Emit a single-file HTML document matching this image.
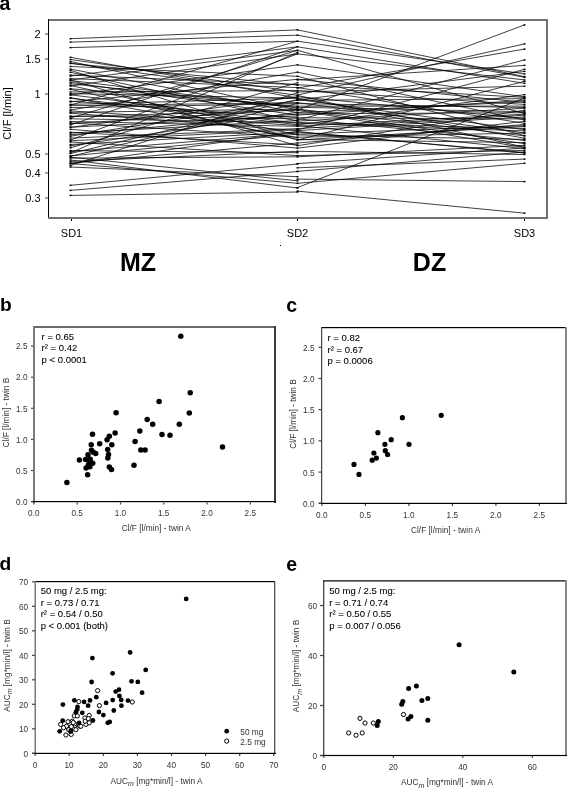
<!DOCTYPE html>
<html><head><meta charset="utf-8"><title>Figure</title>
<style>
html,body{margin:0;padding:0;background:#fff;}
body{width:567px;height:788px;overflow:hidden;}
svg{display:block;}
text{font-family:"Liberation Sans", Arial, Helvetica, sans-serif;}
</style></head><body>
<svg width="567" height="788" viewBox="0 0 567 788">
<rect width="567" height="788" fill="#fff"/>
<text x="-0.6" y="10.4" font-size="19.5" text-anchor="start" font-weight="bold" fill="#000" >a</text>
<rect x="48" y="19" width="500" height="2" fill="#707070"/>
<rect x="48" y="19" width="1" height="200" fill="#000"/>
<rect x="546" y="19" width="2" height="200" fill="#707070"/>
<rect x="48" y="217" width="500" height="2" fill="#707070"/>
<rect x="45" y="33.5" width="3" height="1" fill="#444"/>
<text x="40.5" y="38.19503086286774" font-size="11" text-anchor="end" font-weight="normal" fill="#000" >2</text>
<rect x="45" y="58.5" width="3" height="1" fill="#444"/>
<text x="40.5" y="63.05783944791943" font-size="11" text-anchor="end" font-weight="normal" fill="#000" >1.5</text>
<rect x="45" y="93.5" width="3" height="1" fill="#444"/>
<text x="40.5" y="98.1" font-size="11" text-anchor="end" font-weight="normal" fill="#000" >1</text>
<rect x="45" y="153.5" width="3" height="1" fill="#444"/>
<text x="40.5" y="158.00496913713226" font-size="11" text-anchor="end" font-weight="normal" fill="#000" >0.5</text>
<rect x="45" y="172.5" width="3" height="1" fill="#444"/>
<text x="40.5" y="177.29006172573548" font-size="11" text-anchor="end" font-weight="normal" fill="#000" >0.4</text>
<rect x="45" y="197.5" width="3" height="1" fill="#444"/>
<text x="40.5" y="202.1528703107872" font-size="11" text-anchor="end" font-weight="normal" fill="#000" >0.3</text>
<rect x="71" y="219" width="1" height="2" fill="#000"/>
<text x="71.5" y="236.5" font-size="11" text-anchor="middle" font-weight="normal" fill="#000" >SD1</text>
<rect x="297" y="219" width="1" height="2" fill="#000"/>
<text x="297.5" y="236.5" font-size="11" text-anchor="middle" font-weight="normal" fill="#000" >SD2</text>
<rect x="524" y="219" width="1" height="2" fill="#000"/>
<text x="524.5" y="236.5" font-size="11" text-anchor="middle" font-weight="normal" fill="#000" >SD3</text>
<text x="0" y="0" font-size="11" text-anchor="middle" transform="translate(11,113.5) rotate(-90)">Cl/F [l/min]</text>
<text x="138" y="270.5" font-size="25" text-anchor="middle" font-weight="bold" fill="#000" >MZ</text>
<text x="429.5" y="270.5" font-size="25" text-anchor="middle" font-weight="bold" fill="#000" >DZ</text>
<rect x="280" y="245" width="1" height="1" fill="#000"/>
<line x1="70.5" y1="38.7" x2="297.5" y2="29.9" stroke="#000" stroke-width="0.75"/>
<line x1="70.5" y1="42.1" x2="297.5" y2="35.2" stroke="#000" stroke-width="0.75"/>
<line x1="70.5" y1="47.6" x2="297.5" y2="41.2" stroke="#000" stroke-width="0.75"/>
<line x1="70.5" y1="185.3" x2="297.5" y2="164.0" stroke="#000" stroke-width="0.75"/>
<line x1="70.5" y1="190.4" x2="297.5" y2="171.5" stroke="#000" stroke-width="0.75"/>
<line x1="70.5" y1="195.4" x2="297.5" y2="192.0" stroke="#000" stroke-width="0.75"/>
<line x1="70.5" y1="57.3" x2="297.5" y2="98.0" stroke="#000" stroke-width="0.75"/>
<line x1="70.5" y1="59.5" x2="297.5" y2="92.0" stroke="#000" stroke-width="0.75"/>
<line x1="70.5" y1="61.5" x2="297.5" y2="110.0" stroke="#000" stroke-width="0.75"/>
<line x1="70.5" y1="63.5" x2="297.5" y2="85.0" stroke="#000" stroke-width="0.75"/>
<line x1="70.5" y1="76.0" x2="297.5" y2="46.8" stroke="#000" stroke-width="0.75"/>
<line x1="70.5" y1="80.0" x2="297.5" y2="50.3" stroke="#000" stroke-width="0.75"/>
<line x1="70.5" y1="86.0" x2="297.5" y2="53.9" stroke="#000" stroke-width="0.75"/>
<line x1="70.5" y1="153.0" x2="297.5" y2="52.3" stroke="#000" stroke-width="0.75"/>
<line x1="70.5" y1="95.0" x2="297.5" y2="64.9" stroke="#000" stroke-width="0.75"/>
<line x1="70.5" y1="110.0" x2="297.5" y2="72.2" stroke="#000" stroke-width="0.75"/>
<line x1="70.5" y1="105.0" x2="297.5" y2="41.2" stroke="#000" stroke-width="0.75"/>
<line x1="70.5" y1="125.0" x2="297.5" y2="46.8" stroke="#000" stroke-width="0.75"/>
<line x1="70.5" y1="140.0" x2="297.5" y2="53.9" stroke="#000" stroke-width="0.75"/>
<line x1="70.5" y1="118.0" x2="297.5" y2="50.3" stroke="#000" stroke-width="0.75"/>
<line x1="70.5" y1="167.0" x2="297.5" y2="176.7" stroke="#000" stroke-width="0.75"/>
<line x1="70.5" y1="160.0" x2="297.5" y2="188.0" stroke="#000" stroke-width="0.75"/>
<line x1="70.5" y1="157.2" x2="297.5" y2="180.8" stroke="#000" stroke-width="0.75"/>
<line x1="70.5" y1="163.5" x2="297.5" y2="183.3" stroke="#000" stroke-width="0.75"/>
<line x1="70.5" y1="66.5" x2="297.5" y2="76.3" stroke="#000" stroke-width="0.75"/>
<line x1="70.5" y1="101.9" x2="297.5" y2="79.3" stroke="#000" stroke-width="0.75"/>
<line x1="70.5" y1="147.8" x2="297.5" y2="82.7" stroke="#000" stroke-width="0.75"/>
<line x1="70.5" y1="75.1" x2="297.5" y2="84.7" stroke="#000" stroke-width="0.75"/>
<line x1="70.5" y1="78.6" x2="297.5" y2="87.6" stroke="#000" stroke-width="0.75"/>
<line x1="70.5" y1="92.0" x2="297.5" y2="90.5" stroke="#000" stroke-width="0.75"/>
<line x1="70.5" y1="165.4" x2="297.5" y2="92.7" stroke="#000" stroke-width="0.75"/>
<line x1="70.5" y1="63.1" x2="297.5" y2="95.4" stroke="#000" stroke-width="0.75"/>
<line x1="70.5" y1="127.4" x2="297.5" y2="96.7" stroke="#000" stroke-width="0.75"/>
<line x1="70.5" y1="104.4" x2="297.5" y2="98.1" stroke="#000" stroke-width="0.75"/>
<line x1="70.5" y1="93.6" x2="297.5" y2="98.1" stroke="#000" stroke-width="0.75"/>
<line x1="70.5" y1="153.5" x2="297.5" y2="99.5" stroke="#000" stroke-width="0.75"/>
<line x1="70.5" y1="136.2" x2="297.5" y2="100.3" stroke="#000" stroke-width="0.75"/>
<line x1="70.5" y1="105.7" x2="297.5" y2="102.6" stroke="#000" stroke-width="0.75"/>
<line x1="70.5" y1="156.3" x2="297.5" y2="103.5" stroke="#000" stroke-width="0.75"/>
<line x1="70.5" y1="107.7" x2="297.5" y2="103.6" stroke="#000" stroke-width="0.75"/>
<line x1="70.5" y1="88.8" x2="297.5" y2="106.2" stroke="#000" stroke-width="0.75"/>
<line x1="70.5" y1="83.8" x2="297.5" y2="107.3" stroke="#000" stroke-width="0.75"/>
<line x1="70.5" y1="80.5" x2="297.5" y2="107.9" stroke="#000" stroke-width="0.75"/>
<line x1="70.5" y1="112.4" x2="297.5" y2="109.0" stroke="#000" stroke-width="0.75"/>
<line x1="70.5" y1="123.6" x2="297.5" y2="109.4" stroke="#000" stroke-width="0.75"/>
<line x1="70.5" y1="116.6" x2="297.5" y2="110.3" stroke="#000" stroke-width="0.75"/>
<line x1="70.5" y1="145.8" x2="297.5" y2="112.2" stroke="#000" stroke-width="0.75"/>
<line x1="70.5" y1="69.1" x2="297.5" y2="112.6" stroke="#000" stroke-width="0.75"/>
<line x1="70.5" y1="134.8" x2="297.5" y2="113.9" stroke="#000" stroke-width="0.75"/>
<line x1="70.5" y1="82.3" x2="297.5" y2="115.1" stroke="#000" stroke-width="0.75"/>
<line x1="70.5" y1="127.2" x2="297.5" y2="115.9" stroke="#000" stroke-width="0.75"/>
<line x1="70.5" y1="101.2" x2="297.5" y2="117.7" stroke="#000" stroke-width="0.75"/>
<line x1="70.5" y1="116.1" x2="297.5" y2="118.8" stroke="#000" stroke-width="0.75"/>
<line x1="70.5" y1="133.1" x2="297.5" y2="120.5" stroke="#000" stroke-width="0.75"/>
<line x1="70.5" y1="72.3" x2="297.5" y2="121.1" stroke="#000" stroke-width="0.75"/>
<line x1="70.5" y1="118.8" x2="297.5" y2="122.4" stroke="#000" stroke-width="0.75"/>
<line x1="70.5" y1="94.8" x2="297.5" y2="123.3" stroke="#000" stroke-width="0.75"/>
<line x1="70.5" y1="98.3" x2="297.5" y2="124.7" stroke="#000" stroke-width="0.75"/>
<line x1="70.5" y1="110.9" x2="297.5" y2="125.5" stroke="#000" stroke-width="0.75"/>
<line x1="70.5" y1="121.5" x2="297.5" y2="126.3" stroke="#000" stroke-width="0.75"/>
<line x1="70.5" y1="138.1" x2="297.5" y2="128.6" stroke="#000" stroke-width="0.75"/>
<line x1="70.5" y1="140.8" x2="297.5" y2="129.7" stroke="#000" stroke-width="0.75"/>
<line x1="70.5" y1="113.2" x2="297.5" y2="130.6" stroke="#000" stroke-width="0.75"/>
<line x1="70.5" y1="163.7" x2="297.5" y2="131.5" stroke="#000" stroke-width="0.75"/>
<line x1="70.5" y1="144.5" x2="297.5" y2="132.0" stroke="#000" stroke-width="0.75"/>
<line x1="70.5" y1="151.5" x2="297.5" y2="133.0" stroke="#000" stroke-width="0.75"/>
<line x1="70.5" y1="155.9" x2="297.5" y2="134.2" stroke="#000" stroke-width="0.75"/>
<line x1="70.5" y1="85.5" x2="297.5" y2="134.9" stroke="#000" stroke-width="0.75"/>
<line x1="70.5" y1="122.9" x2="297.5" y2="137.2" stroke="#000" stroke-width="0.75"/>
<line x1="70.5" y1="97.7" x2="297.5" y2="137.7" stroke="#000" stroke-width="0.75"/>
<line x1="70.5" y1="89.4" x2="297.5" y2="139.5" stroke="#000" stroke-width="0.75"/>
<line x1="70.5" y1="70.4" x2="297.5" y2="140.0" stroke="#000" stroke-width="0.75"/>
<line x1="70.5" y1="163.0" x2="297.5" y2="143.0" stroke="#000" stroke-width="0.75"/>
<line x1="70.5" y1="132.2" x2="297.5" y2="144.9" stroke="#000" stroke-width="0.75"/>
<line x1="70.5" y1="80.2" x2="297.5" y2="145.7" stroke="#000" stroke-width="0.75"/>
<line x1="70.5" y1="129.3" x2="297.5" y2="148.1" stroke="#000" stroke-width="0.75"/>
<line x1="70.5" y1="161.4" x2="297.5" y2="151.3" stroke="#000" stroke-width="0.75"/>
<line x1="70.5" y1="150.6" x2="297.5" y2="152.7" stroke="#000" stroke-width="0.75"/>
<line x1="70.5" y1="142.0" x2="297.5" y2="155.6" stroke="#000" stroke-width="0.75"/>
<line x1="70.5" y1="158.1" x2="297.5" y2="156.8" stroke="#000" stroke-width="0.75"/>
<line x1="297.5" y1="29.9" x2="524.5" y2="76.6" stroke="#000" stroke-width="0.75"/>
<line x1="297.5" y1="35.2" x2="524.5" y2="77.3" stroke="#000" stroke-width="0.75"/>
<line x1="297.5" y1="41.2" x2="524.5" y2="73.9" stroke="#000" stroke-width="0.75"/>
<line x1="297.5" y1="46.8" x2="524.5" y2="83.3" stroke="#000" stroke-width="0.75"/>
<line x1="297.5" y1="50.3" x2="524.5" y2="113.5" stroke="#000" stroke-width="0.75"/>
<line x1="297.5" y1="53.9" x2="524.5" y2="79.9" stroke="#000" stroke-width="0.75"/>
<line x1="297.5" y1="64.9" x2="524.5" y2="96.8" stroke="#000" stroke-width="0.75"/>
<line x1="297.5" y1="72.2" x2="524.5" y2="120.0" stroke="#000" stroke-width="0.75"/>
<line x1="297.5" y1="110.0" x2="524.5" y2="24.9" stroke="#000" stroke-width="0.75"/>
<line x1="297.5" y1="95.0" x2="524.5" y2="43.9" stroke="#000" stroke-width="0.75"/>
<line x1="297.5" y1="88.0" x2="524.5" y2="49.1" stroke="#000" stroke-width="0.75"/>
<line x1="297.5" y1="120.0" x2="524.5" y2="59.9" stroke="#000" stroke-width="0.75"/>
<line x1="297.5" y1="80.0" x2="524.5" y2="65.4" stroke="#000" stroke-width="0.75"/>
<line x1="297.5" y1="130.0" x2="524.5" y2="69.3" stroke="#000" stroke-width="0.75"/>
<line x1="297.5" y1="100.0" x2="524.5" y2="71.4" stroke="#000" stroke-width="0.75"/>
<line x1="297.5" y1="140.0" x2="524.5" y2="81.3" stroke="#000" stroke-width="0.75"/>
<line x1="297.5" y1="92.0" x2="524.5" y2="86.2" stroke="#000" stroke-width="0.75"/>
<line x1="297.5" y1="125.0" x2="524.5" y2="94.7" stroke="#000" stroke-width="0.75"/>
<line x1="297.5" y1="191.1" x2="524.5" y2="213.2" stroke="#000" stroke-width="0.75"/>
<line x1="297.5" y1="179.1" x2="524.5" y2="181.6" stroke="#000" stroke-width="0.75"/>
<line x1="297.5" y1="183.3" x2="524.5" y2="163.3" stroke="#000" stroke-width="0.75"/>
<line x1="297.5" y1="187.6" x2="524.5" y2="98.0" stroke="#000" stroke-width="0.75"/>
<line x1="297.5" y1="163.6" x2="524.5" y2="148.0" stroke="#000" stroke-width="0.75"/>
<line x1="297.5" y1="167.8" x2="524.5" y2="159.1" stroke="#000" stroke-width="0.75"/>
<line x1="297.5" y1="171.4" x2="524.5" y2="152.0" stroke="#000" stroke-width="0.75"/>
<line x1="297.5" y1="84.7" x2="524.5" y2="97.4" stroke="#000" stroke-width="0.75"/>
<line x1="297.5" y1="100.3" x2="524.5" y2="98.7" stroke="#000" stroke-width="0.75"/>
<line x1="297.5" y1="115.1" x2="524.5" y2="100.3" stroke="#000" stroke-width="0.75"/>
<line x1="297.5" y1="112.6" x2="524.5" y2="101.9" stroke="#000" stroke-width="0.75"/>
<line x1="297.5" y1="79.3" x2="524.5" y2="102.4" stroke="#000" stroke-width="0.75"/>
<line x1="297.5" y1="90.5" x2="524.5" y2="104.4" stroke="#000" stroke-width="0.75"/>
<line x1="297.5" y1="106.2" x2="524.5" y2="106.1" stroke="#000" stroke-width="0.75"/>
<line x1="297.5" y1="103.6" x2="524.5" y2="107.5" stroke="#000" stroke-width="0.75"/>
<line x1="297.5" y1="121.1" x2="524.5" y2="108.2" stroke="#000" stroke-width="0.75"/>
<line x1="297.5" y1="145.7" x2="524.5" y2="110.2" stroke="#000" stroke-width="0.75"/>
<line x1="297.5" y1="107.3" x2="524.5" y2="111.7" stroke="#000" stroke-width="0.75"/>
<line x1="297.5" y1="113.9" x2="524.5" y2="112.7" stroke="#000" stroke-width="0.75"/>
<line x1="297.5" y1="126.3" x2="524.5" y2="114.2" stroke="#000" stroke-width="0.75"/>
<line x1="297.5" y1="128.6" x2="524.5" y2="115.2" stroke="#000" stroke-width="0.75"/>
<line x1="297.5" y1="130.6" x2="524.5" y2="116.9" stroke="#000" stroke-width="0.75"/>
<line x1="297.5" y1="96.7" x2="524.5" y2="118.4" stroke="#000" stroke-width="0.75"/>
<line x1="297.5" y1="117.7" x2="524.5" y2="119.0" stroke="#000" stroke-width="0.75"/>
<line x1="297.5" y1="148.1" x2="524.5" y2="121.3" stroke="#000" stroke-width="0.75"/>
<line x1="297.5" y1="87.6" x2="524.5" y2="123.3" stroke="#000" stroke-width="0.75"/>
<line x1="297.5" y1="143.0" x2="524.5" y2="124.5" stroke="#000" stroke-width="0.75"/>
<line x1="297.5" y1="134.2" x2="524.5" y2="125.7" stroke="#000" stroke-width="0.75"/>
<line x1="297.5" y1="140.0" x2="524.5" y2="126.5" stroke="#000" stroke-width="0.75"/>
<line x1="297.5" y1="122.4" x2="524.5" y2="128.5" stroke="#000" stroke-width="0.75"/>
<line x1="297.5" y1="99.5" x2="524.5" y2="129.7" stroke="#000" stroke-width="0.75"/>
<line x1="297.5" y1="123.3" x2="524.5" y2="130.9" stroke="#000" stroke-width="0.75"/>
<line x1="297.5" y1="102.6" x2="524.5" y2="132.9" stroke="#000" stroke-width="0.75"/>
<line x1="297.5" y1="137.2" x2="524.5" y2="133.1" stroke="#000" stroke-width="0.75"/>
<line x1="297.5" y1="76.3" x2="524.5" y2="135.6" stroke="#000" stroke-width="0.75"/>
<line x1="297.5" y1="109.0" x2="524.5" y2="135.9" stroke="#000" stroke-width="0.75"/>
<line x1="297.5" y1="98.1" x2="524.5" y2="138.2" stroke="#000" stroke-width="0.75"/>
<line x1="297.5" y1="134.9" x2="524.5" y2="139.4" stroke="#000" stroke-width="0.75"/>
<line x1="297.5" y1="118.8" x2="524.5" y2="140.4" stroke="#000" stroke-width="0.75"/>
<line x1="297.5" y1="139.5" x2="524.5" y2="142.6" stroke="#000" stroke-width="0.75"/>
<line x1="297.5" y1="109.4" x2="524.5" y2="143.7" stroke="#000" stroke-width="0.75"/>
<line x1="297.5" y1="156.8" x2="524.5" y2="145.3" stroke="#000" stroke-width="0.75"/>
<line x1="297.5" y1="95.4" x2="524.5" y2="147.2" stroke="#000" stroke-width="0.75"/>
<line x1="297.5" y1="110.3" x2="524.5" y2="147.5" stroke="#000" stroke-width="0.75"/>
<line x1="297.5" y1="125.5" x2="524.5" y2="148.6" stroke="#000" stroke-width="0.75"/>
<line x1="297.5" y1="155.6" x2="524.5" y2="150.4" stroke="#000" stroke-width="0.75"/>
<line x1="297.5" y1="132.0" x2="524.5" y2="152.5" stroke="#000" stroke-width="0.75"/>
<line x1="297.5" y1="131.5" x2="524.5" y2="153.1" stroke="#000" stroke-width="0.75"/>
<line x1="297.5" y1="151.3" x2="524.5" y2="154.5" stroke="#000" stroke-width="0.75"/>
<rect x="69.5" y="62.4" width="2" height="1.4" fill="#000"/>
<rect x="296.5" y="107.2" width="2" height="1.4" fill="#000"/>
<rect x="523.5" y="116.2" width="2" height="1.4" fill="#000"/>
<rect x="296.5" y="86.89999999999999" width="2" height="1.4" fill="#000"/>
<rect x="296.5" y="170.70000000000002" width="2" height="1.4" fill="#000"/>
<rect x="523.5" y="109.5" width="2" height="1.4" fill="#000"/>
<rect x="69.5" y="131.5" width="2" height="1.4" fill="#000"/>
<rect x="296.5" y="79.3" width="2" height="1.4" fill="#000"/>
<rect x="523.5" y="79.2" width="2" height="1.4" fill="#000"/>
<rect x="69.5" y="56.599999999999994" width="2" height="1.4" fill="#000"/>
<rect x="69.5" y="189.70000000000002" width="2" height="1.4" fill="#000"/>
<rect x="523.5" y="97.3" width="2" height="1.4" fill="#000"/>
<rect x="523.5" y="82.6" width="2" height="1.4" fill="#000"/>
<rect x="296.5" y="97.3" width="2" height="1.4" fill="#000"/>
<rect x="523.5" y="106.8" width="2" height="1.4" fill="#000"/>
<rect x="69.5" y="46.9" width="2" height="1.4" fill="#000"/>
<rect x="69.5" y="162.8" width="2" height="1.4" fill="#000"/>
<rect x="69.5" y="162.3" width="2" height="1.4" fill="#000"/>
<rect x="523.5" y="144.60000000000002" width="2" height="1.4" fill="#000"/>
<rect x="523.5" y="94.0" width="2" height="1.4" fill="#000"/>
<rect x="296.5" y="108.7" width="2" height="1.4" fill="#000"/>
<rect x="69.5" y="101.2" width="2" height="1.4" fill="#000"/>
<rect x="523.5" y="117.7" width="2" height="1.4" fill="#000"/>
<rect x="523.5" y="152.4" width="2" height="1.4" fill="#000"/>
<rect x="69.5" y="164.70000000000002" width="2" height="1.4" fill="#000"/>
<rect x="69.5" y="110.2" width="2" height="1.4" fill="#000"/>
<rect x="296.5" y="191.3" width="2" height="1.4" fill="#000"/>
<rect x="523.5" y="24.2" width="2" height="1.4" fill="#000"/>
<rect x="296.5" y="105.5" width="2" height="1.4" fill="#000"/>
<rect x="69.5" y="107.0" width="2" height="1.4" fill="#000"/>
<rect x="69.5" y="91.3" width="2" height="1.4" fill="#000"/>
<rect x="296.5" y="163.3" width="2" height="1.4" fill="#000"/>
<rect x="296.5" y="124.0" width="2" height="1.4" fill="#000"/>
<rect x="69.5" y="184.60000000000002" width="2" height="1.4" fill="#000"/>
<rect x="296.5" y="78.6" width="2" height="1.4" fill="#000"/>
<rect x="69.5" y="135.5" width="2" height="1.4" fill="#000"/>
<rect x="69.5" y="109.3" width="2" height="1.4" fill="#000"/>
<rect x="296.5" y="127.89999999999999" width="2" height="1.4" fill="#000"/>
<rect x="523.5" y="101.7" width="2" height="1.4" fill="#000"/>
<rect x="69.5" y="137.4" width="2" height="1.4" fill="#000"/>
<rect x="69.5" y="97.6" width="2" height="1.4" fill="#000"/>
<rect x="523.5" y="64.7" width="2" height="1.4" fill="#000"/>
<rect x="69.5" y="111.7" width="2" height="1.4" fill="#000"/>
<rect x="296.5" y="129.3" width="2" height="1.4" fill="#000"/>
<rect x="296.5" y="34.5" width="2" height="1.4" fill="#000"/>
<rect x="296.5" y="138.8" width="2" height="1.4" fill="#000"/>
<rect x="523.5" y="68.6" width="2" height="1.4" fill="#000"/>
<rect x="523.5" y="147.3" width="2" height="1.4" fill="#000"/>
<rect x="69.5" y="75.3" width="2" height="1.4" fill="#000"/>
<rect x="69.5" y="139.3" width="2" height="1.4" fill="#000"/>
<rect x="296.5" y="102.89999999999999" width="2" height="1.4" fill="#000"/>
<rect x="69.5" y="84.8" width="2" height="1.4" fill="#000"/>
<rect x="296.5" y="117.0" width="2" height="1.4" fill="#000"/>
<rect x="69.5" y="41.4" width="2" height="1.4" fill="#000"/>
<rect x="296.5" y="111.89999999999999" width="2" height="1.4" fill="#000"/>
<rect x="296.5" y="29.2" width="2" height="1.4" fill="#000"/>
<rect x="296.5" y="120.39999999999999" width="2" height="1.4" fill="#000"/>
<rect x="523.5" y="119.3" width="2" height="1.4" fill="#000"/>
<rect x="69.5" y="166.3" width="2" height="1.4" fill="#000"/>
<rect x="296.5" y="94.7" width="2" height="1.4" fill="#000"/>
<rect x="69.5" y="126.5" width="2" height="1.4" fill="#000"/>
<rect x="296.5" y="129.9" width="2" height="1.4" fill="#000"/>
<rect x="523.5" y="103.7" width="2" height="1.4" fill="#000"/>
<rect x="523.5" y="147.9" width="2" height="1.4" fill="#000"/>
<rect x="296.5" y="131.3" width="2" height="1.4" fill="#000"/>
<rect x="296.5" y="92.0" width="2" height="1.4" fill="#000"/>
<rect x="296.5" y="176.0" width="2" height="1.4" fill="#000"/>
<rect x="69.5" y="118.1" width="2" height="1.4" fill="#000"/>
<rect x="69.5" y="157.4" width="2" height="1.4" fill="#000"/>
<rect x="69.5" y="38.0" width="2" height="1.4" fill="#000"/>
<rect x="69.5" y="141.3" width="2" height="1.4" fill="#000"/>
<rect x="296.5" y="134.20000000000002" width="2" height="1.4" fill="#000"/>
<rect x="69.5" y="150.8" width="2" height="1.4" fill="#000"/>
<rect x="523.5" y="112.8" width="2" height="1.4" fill="#000"/>
<rect x="69.5" y="159.3" width="2" height="1.4" fill="#000"/>
<rect x="523.5" y="96.7" width="2" height="1.4" fill="#000"/>
<rect x="296.5" y="186.9" width="2" height="1.4" fill="#000"/>
<rect x="69.5" y="88.7" width="2" height="1.4" fill="#000"/>
<rect x="296.5" y="170.8" width="2" height="1.4" fill="#000"/>
<rect x="69.5" y="68.39999999999999" width="2" height="1.4" fill="#000"/>
<rect x="69.5" y="132.4" width="2" height="1.4" fill="#000"/>
<rect x="296.5" y="46.099999999999994" width="2" height="1.4" fill="#000"/>
<rect x="69.5" y="77.89999999999999" width="2" height="1.4" fill="#000"/>
<rect x="296.5" y="124.8" width="2" height="1.4" fill="#000"/>
<rect x="296.5" y="109.6" width="2" height="1.4" fill="#000"/>
<rect x="296.5" y="124.3" width="2" height="1.4" fill="#000"/>
<rect x="523.5" y="158.4" width="2" height="1.4" fill="#000"/>
<rect x="523.5" y="162.60000000000002" width="2" height="1.4" fill="#000"/>
<rect x="296.5" y="142.3" width="2" height="1.4" fill="#000"/>
<rect x="523.5" y="151.3" width="2" height="1.4" fill="#000"/>
<rect x="69.5" y="79.3" width="2" height="1.4" fill="#000"/>
<rect x="296.5" y="97.39999999999999" width="2" height="1.4" fill="#000"/>
<rect x="69.5" y="79.8" width="2" height="1.4" fill="#000"/>
<rect x="296.5" y="111.5" width="2" height="1.4" fill="#000"/>
<rect x="69.5" y="143.8" width="2" height="1.4" fill="#000"/>
<rect x="523.5" y="112.0" width="2" height="1.4" fill="#000"/>
<rect x="523.5" y="151.8" width="2" height="1.4" fill="#000"/>
<rect x="69.5" y="152.3" width="2" height="1.4" fill="#000"/>
<rect x="69.5" y="152.8" width="2" height="1.4" fill="#000"/>
<rect x="69.5" y="112.5" width="2" height="1.4" fill="#000"/>
<rect x="296.5" y="75.6" width="2" height="1.4" fill="#000"/>
<rect x="296.5" y="99.3" width="2" height="1.4" fill="#000"/>
<rect x="296.5" y="108.3" width="2" height="1.4" fill="#000"/>
<rect x="69.5" y="155.20000000000002" width="2" height="1.4" fill="#000"/>
<rect x="296.5" y="156.10000000000002" width="2" height="1.4" fill="#000"/>
<rect x="523.5" y="120.6" width="2" height="1.4" fill="#000"/>
<rect x="296.5" y="96.0" width="2" height="1.4" fill="#000"/>
<rect x="69.5" y="163.0" width="2" height="1.4" fill="#000"/>
<rect x="296.5" y="40.5" width="2" height="1.4" fill="#000"/>
<rect x="296.5" y="154.9" width="2" height="1.4" fill="#000"/>
<rect x="69.5" y="97.0" width="2" height="1.4" fill="#000"/>
<rect x="523.5" y="113.5" width="2" height="1.4" fill="#000"/>
<rect x="523.5" y="153.8" width="2" height="1.4" fill="#000"/>
<rect x="523.5" y="143.0" width="2" height="1.4" fill="#000"/>
<rect x="296.5" y="136.5" width="2" height="1.4" fill="#000"/>
<rect x="296.5" y="137.0" width="2" height="1.4" fill="#000"/>
<rect x="523.5" y="96.1" width="2" height="1.4" fill="#000"/>
<rect x="296.5" y="190.4" width="2" height="1.4" fill="#000"/>
<rect x="523.5" y="101.2" width="2" height="1.4" fill="#000"/>
<rect x="69.5" y="88.1" width="2" height="1.4" fill="#000"/>
<rect x="296.5" y="53.199999999999996" width="2" height="1.4" fill="#000"/>
<rect x="296.5" y="119.8" width="2" height="1.4" fill="#000"/>
<rect x="296.5" y="119.3" width="2" height="1.4" fill="#000"/>
<rect x="69.5" y="120.8" width="2" height="1.4" fill="#000"/>
<rect x="69.5" y="65.8" width="2" height="1.4" fill="#000"/>
<rect x="523.5" y="98.0" width="2" height="1.4" fill="#000"/>
<rect x="296.5" y="113.2" width="2" height="1.4" fill="#000"/>
<rect x="296.5" y="147.4" width="2" height="1.4" fill="#000"/>
<rect x="523.5" y="122.6" width="2" height="1.4" fill="#000"/>
<rect x="523.5" y="146.8" width="2" height="1.4" fill="#000"/>
<rect x="296.5" y="121.7" width="2" height="1.4" fill="#000"/>
<rect x="296.5" y="101.89999999999999" width="2" height="1.4" fill="#000"/>
<rect x="523.5" y="48.4" width="2" height="1.4" fill="#000"/>
<rect x="296.5" y="125.6" width="2" height="1.4" fill="#000"/>
<rect x="523.5" y="125.0" width="2" height="1.4" fill="#000"/>
<rect x="523.5" y="139.70000000000002" width="2" height="1.4" fill="#000"/>
<rect x="296.5" y="94.3" width="2" height="1.4" fill="#000"/>
<rect x="69.5" y="71.6" width="2" height="1.4" fill="#000"/>
<rect x="69.5" y="104.3" width="2" height="1.4" fill="#000"/>
<rect x="69.5" y="134.10000000000002" width="2" height="1.4" fill="#000"/>
<rect x="296.5" y="82.0" width="2" height="1.4" fill="#000"/>
<rect x="296.5" y="150.60000000000002" width="2" height="1.4" fill="#000"/>
<rect x="69.5" y="58.8" width="2" height="1.4" fill="#000"/>
<rect x="296.5" y="130.8" width="2" height="1.4" fill="#000"/>
<rect x="296.5" y="115.2" width="2" height="1.4" fill="#000"/>
<rect x="523.5" y="129.0" width="2" height="1.4" fill="#000"/>
<rect x="69.5" y="100.5" width="2" height="1.4" fill="#000"/>
<rect x="523.5" y="137.5" width="2" height="1.4" fill="#000"/>
<rect x="69.5" y="69.7" width="2" height="1.4" fill="#000"/>
<rect x="296.5" y="87.3" width="2" height="1.4" fill="#000"/>
<rect x="523.5" y="75.89999999999999" width="2" height="1.4" fill="#000"/>
<rect x="69.5" y="122.89999999999999" width="2" height="1.4" fill="#000"/>
<rect x="69.5" y="83.1" width="2" height="1.4" fill="#000"/>
<rect x="523.5" y="99.6" width="2" height="1.4" fill="#000"/>
<rect x="523.5" y="123.8" width="2" height="1.4" fill="#000"/>
<rect x="296.5" y="84.0" width="2" height="1.4" fill="#000"/>
<rect x="69.5" y="60.8" width="2" height="1.4" fill="#000"/>
<rect x="296.5" y="187.3" width="2" height="1.4" fill="#000"/>
<rect x="69.5" y="145.10000000000002" width="2" height="1.4" fill="#000"/>
<rect x="69.5" y="124.3" width="2" height="1.4" fill="#000"/>
<rect x="523.5" y="111.0" width="2" height="1.4" fill="#000"/>
<rect x="523.5" y="70.7" width="2" height="1.4" fill="#000"/>
<rect x="523.5" y="105.39999999999999" width="2" height="1.4" fill="#000"/>
<rect x="523.5" y="135.20000000000002" width="2" height="1.4" fill="#000"/>
<rect x="69.5" y="126.7" width="2" height="1.4" fill="#000"/>
<rect x="296.5" y="89.8" width="2" height="1.4" fill="#000"/>
<rect x="296.5" y="114.39999999999999" width="2" height="1.4" fill="#000"/>
<rect x="296.5" y="178.4" width="2" height="1.4" fill="#000"/>
<rect x="296.5" y="98.8" width="2" height="1.4" fill="#000"/>
<rect x="296.5" y="182.60000000000002" width="2" height="1.4" fill="#000"/>
<rect x="69.5" y="115.89999999999999" width="2" height="1.4" fill="#000"/>
<rect x="69.5" y="115.39999999999999" width="2" height="1.4" fill="#000"/>
<rect x="296.5" y="133.5" width="2" height="1.4" fill="#000"/>
<rect x="523.5" y="132.4" width="2" height="1.4" fill="#000"/>
<rect x="523.5" y="141.9" width="2" height="1.4" fill="#000"/>
<rect x="69.5" y="128.60000000000002" width="2" height="1.4" fill="#000"/>
<rect x="296.5" y="152.0" width="2" height="1.4" fill="#000"/>
<rect x="69.5" y="94.1" width="2" height="1.4" fill="#000"/>
<rect x="523.5" y="59.199999999999996" width="2" height="1.4" fill="#000"/>
<rect x="523.5" y="85.5" width="2" height="1.4" fill="#000"/>
<rect x="523.5" y="125.8" width="2" height="1.4" fill="#000"/>
<rect x="69.5" y="117.3" width="2" height="1.4" fill="#000"/>
<rect x="69.5" y="62.8" width="2" height="1.4" fill="#000"/>
<rect x="69.5" y="147.10000000000002" width="2" height="1.4" fill="#000"/>
<rect x="69.5" y="155.60000000000002" width="2" height="1.4" fill="#000"/>
<rect x="296.5" y="49.599999999999994" width="2" height="1.4" fill="#000"/>
<rect x="296.5" y="64.2" width="2" height="1.4" fill="#000"/>
<rect x="523.5" y="73.2" width="2" height="1.4" fill="#000"/>
<rect x="296.5" y="162.9" width="2" height="1.4" fill="#000"/>
<rect x="69.5" y="105.0" width="2" height="1.4" fill="#000"/>
<rect x="296.5" y="122.6" width="2" height="1.4" fill="#000"/>
<rect x="296.5" y="167.10000000000002" width="2" height="1.4" fill="#000"/>
<rect x="523.5" y="76.6" width="2" height="1.4" fill="#000"/>
<rect x="296.5" y="91.3" width="2" height="1.4" fill="#000"/>
<rect x="523.5" y="180.9" width="2" height="1.4" fill="#000"/>
<rect x="523.5" y="43.199999999999996" width="2" height="1.4" fill="#000"/>
<rect x="523.5" y="134.9" width="2" height="1.4" fill="#000"/>
<rect x="296.5" y="109.3" width="2" height="1.4" fill="#000"/>
<rect x="296.5" y="145.0" width="2" height="1.4" fill="#000"/>
<rect x="523.5" y="118.3" width="2" height="1.4" fill="#000"/>
<rect x="523.5" y="127.8" width="2" height="1.4" fill="#000"/>
<rect x="69.5" y="140.10000000000002" width="2" height="1.4" fill="#000"/>
<rect x="69.5" y="79.5" width="2" height="1.4" fill="#000"/>
<rect x="69.5" y="74.39999999999999" width="2" height="1.4" fill="#000"/>
<rect x="69.5" y="103.7" width="2" height="1.4" fill="#000"/>
<rect x="296.5" y="106.6" width="2" height="1.4" fill="#000"/>
<rect x="296.5" y="51.599999999999994" width="2" height="1.4" fill="#000"/>
<rect x="523.5" y="130.20000000000002" width="2" height="1.4" fill="#000"/>
<rect x="523.5" y="114.5" width="2" height="1.4" fill="#000"/>
<rect x="69.5" y="92.89999999999999" width="2" height="1.4" fill="#000"/>
<rect x="69.5" y="122.2" width="2" height="1.4" fill="#000"/>
<rect x="296.5" y="139.3" width="2" height="1.4" fill="#000"/>
<rect x="296.5" y="84.3" width="2" height="1.4" fill="#000"/>
<rect x="523.5" y="138.70000000000002" width="2" height="1.4" fill="#000"/>
<rect x="69.5" y="194.70000000000002" width="2" height="1.4" fill="#000"/>
<rect x="69.5" y="85.3" width="2" height="1.4" fill="#000"/>
<rect x="296.5" y="129.0" width="2" height="1.4" fill="#000"/>
<rect x="296.5" y="102.8" width="2" height="1.4" fill="#000"/>
<rect x="69.5" y="94.3" width="2" height="1.4" fill="#000"/>
<rect x="523.5" y="146.5" width="2" height="1.4" fill="#000"/>
<rect x="296.5" y="71.5" width="2" height="1.4" fill="#000"/>
<rect x="69.5" y="156.5" width="2" height="1.4" fill="#000"/>
<rect x="296.5" y="99.6" width="2" height="1.4" fill="#000"/>
<rect x="69.5" y="160.70000000000002" width="2" height="1.4" fill="#000"/>
<rect x="523.5" y="107.5" width="2" height="1.4" fill="#000"/>
<rect x="296.5" y="132.3" width="2" height="1.4" fill="#000"/>
<rect x="296.5" y="118.1" width="2" height="1.4" fill="#000"/>
<rect x="69.5" y="149.9" width="2" height="1.4" fill="#000"/>
<rect x="523.5" y="132.20000000000002" width="2" height="1.4" fill="#000"/>
<rect x="523.5" y="80.6" width="2" height="1.4" fill="#000"/>
<rect x="523.5" y="149.70000000000002" width="2" height="1.4" fill="#000"/>
<rect x="296.5" y="180.10000000000002" width="2" height="1.4" fill="#000"/>
<rect x="69.5" y="81.6" width="2" height="1.4" fill="#000"/>
<rect x="296.5" y="144.20000000000002" width="2" height="1.4" fill="#000"/>
<rect x="523.5" y="212.5" width="2" height="1.4" fill="#000"/>
<text x="0.0" y="310.8" font-size="19.2" text-anchor="start" font-weight="bold" fill="#000" >b</text>
<rect x="33" y="326" width="243" height="2" fill="#6a6a6a"/>
<rect x="33" y="326" width="2" height="177" fill="#7a7a7a"/>
<rect x="274" y="326" width="2" height="177" fill="#3a3a3a"/>
<rect x="31" y="501" width="245" height="1.2" fill="#000"/>
<rect x="31" y="501.0" width="2" height="1.2" fill="#444"/>
<text x="27.5" y="504.8" font-size="8.2" text-anchor="end" font-weight="normal" fill="#333" >0.0</text>
<rect x="33.3" y="502.5" width="1.2" height="2" fill="#444"/>
<text x="33.8" y="515.5" font-size="8.2" text-anchor="middle" font-weight="normal" fill="#333" >0.0</text>
<rect x="31" y="469.9" width="2" height="1.2" fill="#444"/>
<text x="27.5" y="473.7" font-size="8.2" text-anchor="end" font-weight="normal" fill="#333" >0.5</text>
<rect x="76.6" y="502.5" width="1.2" height="2" fill="#444"/>
<text x="77.1" y="515.5" font-size="8.2" text-anchor="middle" font-weight="normal" fill="#333" >0.5</text>
<rect x="31" y="438.8" width="2" height="1.2" fill="#444"/>
<text x="27.5" y="442.6" font-size="8.2" text-anchor="end" font-weight="normal" fill="#333" >1.0</text>
<rect x="119.89999999999999" y="502.5" width="1.2" height="2" fill="#444"/>
<text x="120.39999999999999" y="515.5" font-size="8.2" text-anchor="middle" font-weight="normal" fill="#333" >1.0</text>
<rect x="31" y="407.7" width="2" height="1.2" fill="#444"/>
<text x="27.5" y="411.5" font-size="8.2" text-anchor="end" font-weight="normal" fill="#333" >1.5</text>
<rect x="163.2" y="502.5" width="1.2" height="2" fill="#444"/>
<text x="163.7" y="515.5" font-size="8.2" text-anchor="middle" font-weight="normal" fill="#333" >1.5</text>
<rect x="31" y="376.6" width="2" height="1.2" fill="#444"/>
<text x="27.5" y="380.40000000000003" font-size="8.2" text-anchor="end" font-weight="normal" fill="#333" >2.0</text>
<rect x="206.5" y="502.5" width="1.2" height="2" fill="#444"/>
<text x="207.0" y="515.5" font-size="8.2" text-anchor="middle" font-weight="normal" fill="#333" >2.0</text>
<rect x="31" y="345.5" width="2" height="1.2" fill="#444"/>
<text x="27.5" y="349.3" font-size="8.2" text-anchor="end" font-weight="normal" fill="#333" >2.5</text>
<rect x="249.8" y="502.5" width="1.2" height="2" fill="#444"/>
<text x="250.3" y="515.5" font-size="8.2" text-anchor="middle" font-weight="normal" fill="#333" >2.5</text>
<text x="0" y="0" font-size="8.3" text-anchor="middle" fill="#333" transform="translate(8.6,412.6) rotate(-90)">Cl/F [l/min] - twin B</text>
<text x="156.3" y="531.3" font-size="8.3" text-anchor="middle" font-weight="normal" fill="#333" >Cl/F [l/min] - twin A</text>
<text x="41.599999999999994" y="339.6" font-size="9.5" text-anchor="start" font-weight="normal" fill="#000" stroke="#000" stroke-width="0.08">r = 0.65</text>
<text x="41.599999999999994" y="351.1" font-size="9.5" text-anchor="start" font-weight="normal" fill="#000" stroke="#000" stroke-width="0.08">r² = 0.42</text>
<text x="41.599999999999994" y="362.6" font-size="9.5" text-anchor="start" font-weight="normal" fill="#000" stroke="#000" stroke-width="0.08">p &lt; 0.0001</text>
<circle cx="66.9" cy="482.6" r="2.75" fill="#000"/>
<circle cx="92.5" cy="434.2" r="2.75" fill="#000"/>
<circle cx="115.1" cy="433.1" r="2.75" fill="#000"/>
<circle cx="109.3" cy="436.3" r="2.75" fill="#000"/>
<circle cx="107.1" cy="439.8" r="2.75" fill="#000"/>
<circle cx="99.7" cy="443.7" r="2.75" fill="#000"/>
<circle cx="111.8" cy="444.7" r="2.75" fill="#000"/>
<circle cx="91.2" cy="444.7" r="2.75" fill="#000"/>
<circle cx="91.5" cy="450.2" r="2.75" fill="#000"/>
<circle cx="107.7" cy="449.6" r="2.75" fill="#000"/>
<circle cx="95.7" cy="453.6" r="2.75" fill="#000"/>
<circle cx="93.3" cy="452.3" r="2.75" fill="#000"/>
<circle cx="88" cy="454.8" r="2.75" fill="#000"/>
<circle cx="108.5" cy="454.6" r="2.75" fill="#000"/>
<circle cx="107.8" cy="458" r="2.75" fill="#000"/>
<circle cx="79.4" cy="460.1" r="2.75" fill="#000"/>
<circle cx="85.6" cy="459.5" r="2.75" fill="#000"/>
<circle cx="90.2" cy="459.3" r="2.75" fill="#000"/>
<circle cx="89.6" cy="462.6" r="2.75" fill="#000"/>
<circle cx="92.7" cy="463.2" r="2.75" fill="#000"/>
<circle cx="88.3" cy="465.1" r="2.75" fill="#000"/>
<circle cx="89.9" cy="466.7" r="2.75" fill="#000"/>
<circle cx="86.1" cy="468.1" r="2.75" fill="#000"/>
<circle cx="109.3" cy="466.9" r="2.75" fill="#000"/>
<circle cx="111.5" cy="469.4" r="2.75" fill="#000"/>
<circle cx="87.6" cy="474.7" r="2.75" fill="#000"/>
<circle cx="116.1" cy="412.7" r="2.75" fill="#000"/>
<circle cx="159.1" cy="401.6" r="2.75" fill="#000"/>
<circle cx="147.2" cy="419.5" r="2.75" fill="#000"/>
<circle cx="152.7" cy="424.3" r="2.75" fill="#000"/>
<circle cx="189.3" cy="413.0" r="2.75" fill="#000"/>
<circle cx="179.3" cy="424.3" r="2.75" fill="#000"/>
<circle cx="139.8" cy="431.1" r="2.75" fill="#000"/>
<circle cx="162" cy="434.5" r="2.75" fill="#000"/>
<circle cx="170" cy="435.3" r="2.75" fill="#000"/>
<circle cx="135.1" cy="441.5" r="2.75" fill="#000"/>
<circle cx="140.8" cy="450" r="2.75" fill="#000"/>
<circle cx="145.1" cy="450" r="2.75" fill="#000"/>
<circle cx="134" cy="465.2" r="2.75" fill="#000"/>
<circle cx="222.5" cy="447" r="2.75" fill="#000"/>
<circle cx="180.8" cy="336.3" r="2.75" fill="#000"/>
<circle cx="190.2" cy="392.8" r="2.75" fill="#000"/>
<text x="286.3" y="311.5" font-size="19.5" text-anchor="start" font-weight="bold" fill="#000" >c</text>
<rect x="321" y="327" width="246" height="1.2" fill="#000"/>
<rect x="321" y="327" width="1.2" height="177" fill="#444"/>
<rect x="565" y="327" width="2" height="177" fill="#888"/>
<rect x="319" y="502.8" width="248" height="1.2" fill="#000"/>
<rect x="318.5" y="502.7" width="3" height="1.2" fill="#444"/>
<text x="314.5" y="506.8" font-size="8.2" text-anchor="end" font-weight="normal" fill="#333" >0.0</text>
<rect x="321.3" y="504" width="1.2" height="2" fill="#444"/>
<text x="321.8" y="518.4" font-size="8.2" text-anchor="middle" font-weight="normal" fill="#333" >0.0</text>
<rect x="318.5" y="471.5" width="3" height="1.2" fill="#444"/>
<text x="314.5" y="475.6" font-size="8.2" text-anchor="end" font-weight="normal" fill="#333" >0.5</text>
<rect x="364.8" y="504" width="1.2" height="2" fill="#444"/>
<text x="365.3" y="518.4" font-size="8.2" text-anchor="middle" font-weight="normal" fill="#333" >0.5</text>
<rect x="318.5" y="440.3" width="3" height="1.2" fill="#444"/>
<text x="314.5" y="444.40000000000003" font-size="8.2" text-anchor="end" font-weight="normal" fill="#333" >1.0</text>
<rect x="408.3" y="504" width="1.2" height="2" fill="#444"/>
<text x="408.8" y="518.4" font-size="8.2" text-anchor="middle" font-weight="normal" fill="#333" >1.0</text>
<rect x="318.5" y="409.1" width="3" height="1.2" fill="#444"/>
<text x="314.5" y="413.20000000000005" font-size="8.2" text-anchor="end" font-weight="normal" fill="#333" >1.5</text>
<rect x="451.8" y="504" width="1.2" height="2" fill="#444"/>
<text x="452.3" y="518.4" font-size="8.2" text-anchor="middle" font-weight="normal" fill="#333" >1.5</text>
<rect x="318.5" y="377.9" width="3" height="1.2" fill="#444"/>
<text x="314.5" y="382.0" font-size="8.2" text-anchor="end" font-weight="normal" fill="#333" >2.0</text>
<rect x="495.3" y="504" width="1.2" height="2" fill="#444"/>
<text x="495.8" y="518.4" font-size="8.2" text-anchor="middle" font-weight="normal" fill="#333" >2.0</text>
<rect x="318.5" y="346.7" width="3" height="1.2" fill="#444"/>
<text x="314.5" y="350.8" font-size="8.2" text-anchor="end" font-weight="normal" fill="#333" >2.5</text>
<rect x="538.8" y="504" width="1.2" height="2" fill="#444"/>
<text x="539.3" y="518.4" font-size="8.2" text-anchor="middle" font-weight="normal" fill="#333" >2.5</text>
<text x="0" y="0" font-size="8.3" text-anchor="middle" fill="#333" transform="translate(296.2,414) rotate(-90)">Cl/F [l/min] - twin B</text>
<text x="445.6" y="532.5" font-size="8.3" text-anchor="middle" font-weight="normal" fill="#333" >Cl/F [l/min] - twin A</text>
<text x="327.5" y="341.2" font-size="9.5" text-anchor="start" font-weight="normal" fill="#000" stroke="#000" stroke-width="0.08">r = 0.82</text>
<text x="327.5" y="352.7" font-size="9.5" text-anchor="start" font-weight="normal" fill="#000" stroke="#000" stroke-width="0.08">r² = 0.67</text>
<text x="327.5" y="364.2" font-size="9.5" text-anchor="start" font-weight="normal" fill="#000" stroke="#000" stroke-width="0.08">p = 0.0006</text>
<circle cx="354" cy="464.4" r="2.6" fill="#000"/>
<circle cx="359" cy="474.4" r="2.6" fill="#000"/>
<circle cx="377.9" cy="432.7" r="2.6" fill="#000"/>
<circle cx="391.2" cy="439.7" r="2.6" fill="#000"/>
<circle cx="384.9" cy="444.3" r="2.6" fill="#000"/>
<circle cx="409" cy="444.3" r="2.6" fill="#000"/>
<circle cx="373.9" cy="453" r="2.6" fill="#000"/>
<circle cx="385.3" cy="450.7" r="2.6" fill="#000"/>
<circle cx="387.6" cy="454.5" r="2.6" fill="#000"/>
<circle cx="376.4" cy="458.1" r="2.6" fill="#000"/>
<circle cx="372.2" cy="460.2" r="2.6" fill="#000"/>
<circle cx="402.4" cy="417.7" r="2.6" fill="#000"/>
<circle cx="441.2" cy="415.3" r="2.6" fill="#000"/>
<text x="-0.5" y="569.9" font-size="19.2" text-anchor="start" font-weight="bold" fill="#000" >d</text>
<rect x="35" y="581" width="240" height="1.2" fill="#000"/>
<rect x="34.5" y="581" width="1.5" height="173" fill="#7a7a7a"/>
<rect x="274.1" y="581" width="1.2" height="173" fill="#444"/>
<rect x="32" y="752.8" width="244" height="1.2" fill="#000"/>
<rect x="32" y="752.7" width="3" height="1.2" fill="#444"/>
<text x="28" y="756.5" font-size="8.2" text-anchor="end" font-weight="normal" fill="#333" >0</text>
<rect x="34.5" y="754" width="1.2" height="2" fill="#444"/>
<text x="35.0" y="767.7" font-size="8.2" text-anchor="middle" font-weight="normal" fill="#333" >0</text>
<rect x="32" y="728.2" width="3" height="1.2" fill="#444"/>
<text x="28" y="732.0" font-size="8.2" text-anchor="end" font-weight="normal" fill="#333" >10</text>
<rect x="68.6" y="754" width="1.2" height="2" fill="#444"/>
<text x="69.1" y="767.7" font-size="8.2" text-anchor="middle" font-weight="normal" fill="#333" >10</text>
<rect x="32" y="703.7" width="3" height="1.2" fill="#444"/>
<text x="28" y="707.5" font-size="8.2" text-anchor="end" font-weight="normal" fill="#333" >20</text>
<rect x="102.7" y="754" width="1.2" height="2" fill="#444"/>
<text x="103.2" y="767.7" font-size="8.2" text-anchor="middle" font-weight="normal" fill="#333" >20</text>
<rect x="32" y="679.2" width="3" height="1.2" fill="#444"/>
<text x="28" y="683.0" font-size="8.2" text-anchor="end" font-weight="normal" fill="#333" >30</text>
<rect x="136.8" y="754" width="1.2" height="2" fill="#444"/>
<text x="137.3" y="767.7" font-size="8.2" text-anchor="middle" font-weight="normal" fill="#333" >30</text>
<rect x="32" y="654.7" width="3" height="1.2" fill="#444"/>
<text x="28" y="658.5" font-size="8.2" text-anchor="end" font-weight="normal" fill="#333" >40</text>
<rect x="170.9" y="754" width="1.2" height="2" fill="#444"/>
<text x="171.4" y="767.7" font-size="8.2" text-anchor="middle" font-weight="normal" fill="#333" >40</text>
<rect x="32" y="630.2" width="3" height="1.2" fill="#444"/>
<text x="28" y="634.0" font-size="8.2" text-anchor="end" font-weight="normal" fill="#333" >50</text>
<rect x="205.0" y="754" width="1.2" height="2" fill="#444"/>
<text x="205.5" y="767.7" font-size="8.2" text-anchor="middle" font-weight="normal" fill="#333" >50</text>
<rect x="32" y="605.7" width="3" height="1.2" fill="#444"/>
<text x="28" y="609.5" font-size="8.2" text-anchor="end" font-weight="normal" fill="#333" >60</text>
<rect x="239.10000000000002" y="754" width="1.2" height="2" fill="#444"/>
<text x="239.60000000000002" y="767.7" font-size="8.2" text-anchor="middle" font-weight="normal" fill="#333" >60</text>
<rect x="32" y="581.2" width="3" height="1.2" fill="#444"/>
<text x="28" y="585.0" font-size="8.2" text-anchor="end" font-weight="normal" fill="#333" >70</text>
<rect x="273.20000000000005" y="754" width="1.2" height="2" fill="#444"/>
<text x="273.70000000000005" y="767.7" font-size="8.2" text-anchor="middle" font-weight="normal" fill="#333" >70</text>
<text x="0" y="0" font-size="8.3" text-anchor="middle" fill="#333" transform="translate(9.6,665.6) rotate(-90)">AUC<tspan font-size="7" dy="2.5" font-style="italic">m</tspan><tspan dy="-2.5"> [mg*min/l] - twin B</tspan></text>
<text x="156.5" y="783.6" font-size="8.3" text-anchor="middle" fill="#333">AUC<tspan font-size="7" dy="2.5" font-style="italic">m</tspan><tspan dy="-2.5"> [mg*min/l] - twin A</tspan></text>
<text x="40.699999999999996" y="594.4" font-size="9.5" text-anchor="start" font-weight="normal" fill="#000" stroke="#000" stroke-width="0.08">50 mg / 2.5 mg:</text>
<text x="40.699999999999996" y="605.9" font-size="9.5" text-anchor="start" font-weight="normal" fill="#000" stroke="#000" stroke-width="0.08">r = 0.73 / 0.71</text>
<text x="40.699999999999996" y="617.4" font-size="9.5" text-anchor="start" font-weight="normal" fill="#000" stroke="#000" stroke-width="0.08">r² = 0.54 / 0.50</text>
<text x="40.699999999999996" y="628.9" font-size="9.5" text-anchor="start" font-weight="normal" fill="#000" stroke="#000" stroke-width="0.08">p &lt; 0.001 (both)</text>
<circle cx="97.6" cy="690.6" r="2.10" fill="#fff" stroke="#000" stroke-width="1.0"/>
<circle cx="78.8" cy="701.6" r="2.10" fill="#fff" stroke="#000" stroke-width="1.0"/>
<circle cx="99.4" cy="705.6" r="2.10" fill="#fff" stroke="#000" stroke-width="1.0"/>
<circle cx="74.3" cy="715.9" r="2.10" fill="#fff" stroke="#000" stroke-width="1.0"/>
<circle cx="77.3" cy="715.9" r="2.10" fill="#fff" stroke="#000" stroke-width="1.0"/>
<circle cx="84.9" cy="718" r="2.10" fill="#fff" stroke="#000" stroke-width="1.0"/>
<circle cx="89.2" cy="715.4" r="2.10" fill="#fff" stroke="#000" stroke-width="1.0"/>
<circle cx="60.6" cy="724.4" r="2.10" fill="#fff" stroke="#000" stroke-width="1.0"/>
<circle cx="68" cy="721.7" r="2.10" fill="#fff" stroke="#000" stroke-width="1.0"/>
<circle cx="72.2" cy="721.2" r="2.10" fill="#fff" stroke="#000" stroke-width="1.0"/>
<circle cx="74.9" cy="725.4" r="2.10" fill="#fff" stroke="#000" stroke-width="1.0"/>
<circle cx="79.6" cy="726" r="2.10" fill="#fff" stroke="#000" stroke-width="1.0"/>
<circle cx="86" cy="724.4" r="2.10" fill="#fff" stroke="#000" stroke-width="1.0"/>
<circle cx="89.2" cy="722.8" r="2.10" fill="#fff" stroke="#000" stroke-width="1.0"/>
<circle cx="68" cy="728.1" r="2.10" fill="#fff" stroke="#000" stroke-width="1.0"/>
<circle cx="75.9" cy="729.7" r="2.10" fill="#fff" stroke="#000" stroke-width="1.0"/>
<circle cx="65.9" cy="735" r="2.10" fill="#fff" stroke="#000" stroke-width="1.0"/>
<circle cx="71.2" cy="734.4" r="2.10" fill="#fff" stroke="#000" stroke-width="1.0"/>
<circle cx="132.3" cy="702" r="2.10" fill="#fff" stroke="#000" stroke-width="1.0"/>
<circle cx="66.5" cy="726.2" r="2.10" fill="#fff" stroke="#000" stroke-width="1.0"/>
<circle cx="68.8" cy="729.6" r="2.10" fill="#fff" stroke="#000" stroke-width="1.0"/>
<circle cx="71.3" cy="726.6" r="2.10" fill="#fff" stroke="#000" stroke-width="1.0"/>
<circle cx="74.6" cy="723.8" r="2.10" fill="#fff" stroke="#000" stroke-width="1.0"/>
<circle cx="80.9" cy="726.3" r="2.10" fill="#fff" stroke="#000" stroke-width="1.0"/>
<circle cx="85.2" cy="721.2" r="2.10" fill="#fff" stroke="#000" stroke-width="1.0"/>
<circle cx="88.3" cy="718.6" r="2.10" fill="#fff" stroke="#000" stroke-width="1.0"/>
<circle cx="73.2" cy="722.6" r="2.10" fill="#fff" stroke="#000" stroke-width="1.0"/>
<circle cx="63.5" cy="727.8" r="2.10" fill="#fff" stroke="#000" stroke-width="1.0"/>
<circle cx="62.9" cy="704.6" r="2.4" fill="#000"/>
<circle cx="74.3" cy="700.3" r="2.4" fill="#000"/>
<circle cx="84.1" cy="701.9" r="2.4" fill="#000"/>
<circle cx="90" cy="700.4" r="2.4" fill="#000"/>
<circle cx="88.1" cy="705.7" r="2.4" fill="#000"/>
<circle cx="96.3" cy="697.2" r="2.4" fill="#000"/>
<circle cx="106.1" cy="702.9" r="2.4" fill="#000"/>
<circle cx="77.5" cy="706.9" r="2.4" fill="#000"/>
<circle cx="75.9" cy="712.2" r="2.4" fill="#000"/>
<circle cx="82.3" cy="712.8" r="2.4" fill="#000"/>
<circle cx="98.9" cy="712" r="2.4" fill="#000"/>
<circle cx="103.4" cy="715.1" r="2.4" fill="#000"/>
<circle cx="62.7" cy="720.7" r="2.4" fill="#000"/>
<circle cx="92.9" cy="720.5" r="2.4" fill="#000"/>
<circle cx="107.7" cy="722.8" r="2.4" fill="#000"/>
<circle cx="79.1" cy="722.8" r="2.4" fill="#000"/>
<circle cx="59.7" cy="731.3" r="2.4" fill="#000"/>
<circle cx="71.2" cy="730.7" r="2.4" fill="#000"/>
<circle cx="92.4" cy="658.1" r="2.4" fill="#000"/>
<circle cx="130.1" cy="652.4" r="2.4" fill="#000"/>
<circle cx="145.7" cy="669.9" r="2.4" fill="#000"/>
<circle cx="112.6" cy="673.3" r="2.4" fill="#000"/>
<circle cx="91.6" cy="682" r="2.4" fill="#000"/>
<circle cx="131.5" cy="681.3" r="2.4" fill="#000"/>
<circle cx="137.8" cy="681.9" r="2.4" fill="#000"/>
<circle cx="142.1" cy="692.7" r="2.4" fill="#000"/>
<circle cx="119" cy="689.7" r="2.4" fill="#000"/>
<circle cx="115.7" cy="691.6" r="2.4" fill="#000"/>
<circle cx="119.4" cy="695.9" r="2.4" fill="#000"/>
<circle cx="121.2" cy="699.9" r="2.4" fill="#000"/>
<circle cx="112.7" cy="700.1" r="2.4" fill="#000"/>
<circle cx="128" cy="700.6" r="2.4" fill="#000"/>
<circle cx="121.4" cy="705.7" r="2.4" fill="#000"/>
<circle cx="113.8" cy="710.5" r="2.4" fill="#000"/>
<circle cx="109.7" cy="721.9" r="2.4" fill="#000"/>
<circle cx="186.2" cy="598.9" r="2.4" fill="#000"/>
<circle cx="77.2" cy="709.4" r="2.4" fill="#000"/>
<circle cx="70.5" cy="731.5" r="2.4" fill="#000"/>
<circle cx="226.7" cy="731.2" r="2.4" fill="#000"/>
<circle cx="226.7" cy="741.1" r="2.10" fill="#fff" stroke="#000" stroke-width="1.0"/>
<text x="240.3" y="734.5" font-size="8.3" text-anchor="start" font-weight="normal" fill="#333" >50 mg</text>
<text x="240.3" y="744.5" font-size="8.3" text-anchor="start" font-weight="normal" fill="#333" >2.5 mg</text>
<text x="286.3" y="570.5" font-size="19.5" text-anchor="start" font-weight="bold" fill="#000" >e</text>
<rect x="323" y="580.3" width="244" height="1.2" fill="#000"/>
<rect x="323.1" y="580" width="1.2" height="176" fill="#333"/>
<rect x="565" y="580" width="2" height="176" fill="#888"/>
<rect x="320" y="754.9" width="247" height="1.2" fill="#000"/>
<rect x="320" y="754.9" width="3" height="1.2" fill="#444"/>
<text x="317" y="758.6999999999999" font-size="8.2" text-anchor="end" font-weight="normal" fill="#333" >0</text>
<rect x="323.2" y="756" width="1.2" height="2" fill="#444"/>
<text x="323.7" y="770" font-size="8.2" text-anchor="middle" font-weight="normal" fill="#333" >0</text>
<rect x="320" y="704.9" width="3" height="1.2" fill="#444"/>
<text x="317" y="708.6999999999999" font-size="8.2" text-anchor="end" font-weight="normal" fill="#333" >20</text>
<rect x="392.7" y="756" width="1.2" height="2" fill="#444"/>
<text x="393.2" y="770" font-size="8.2" text-anchor="middle" font-weight="normal" fill="#333" >20</text>
<rect x="320" y="654.9" width="3" height="1.2" fill="#444"/>
<text x="317" y="658.6999999999999" font-size="8.2" text-anchor="end" font-weight="normal" fill="#333" >40</text>
<rect x="462.2" y="756" width="1.2" height="2" fill="#444"/>
<text x="462.7" y="770" font-size="8.2" text-anchor="middle" font-weight="normal" fill="#333" >40</text>
<rect x="320" y="604.9" width="3" height="1.2" fill="#444"/>
<text x="317" y="608.6999999999999" font-size="8.2" text-anchor="end" font-weight="normal" fill="#333" >60</text>
<rect x="531.7" y="756" width="1.2" height="2" fill="#444"/>
<text x="532.2" y="770" font-size="8.2" text-anchor="middle" font-weight="normal" fill="#333" >60</text>
<text x="0" y="0" font-size="8.3" text-anchor="middle" fill="#333" transform="translate(299,666) rotate(-90)">AUC<tspan font-size="7" dy="2.5" font-style="italic">m</tspan><tspan dy="-2.5"> [mg*min/l] - twin B</tspan></text>
<text x="447" y="785" font-size="8.3" text-anchor="middle" fill="#333">AUC<tspan font-size="7" dy="2.5" font-style="italic">m</tspan><tspan dy="-2.5"> [mg*min/l] - twin A</tspan></text>
<text x="329.3" y="594.4" font-size="9.5" text-anchor="start" font-weight="normal" fill="#000" stroke="#000" stroke-width="0.08">50 mg / 2.5 mg:</text>
<text x="329.3" y="605.9" font-size="9.5" text-anchor="start" font-weight="normal" fill="#000" stroke="#000" stroke-width="0.08">r = 0.71 / 0.74</text>
<text x="329.3" y="617.4" font-size="9.5" text-anchor="start" font-weight="normal" fill="#000" stroke="#000" stroke-width="0.08">r² = 0.50 / 0.55</text>
<text x="329.3" y="628.9" font-size="9.5" text-anchor="start" font-weight="normal" fill="#000" stroke="#000" stroke-width="0.08">p = 0.007 / 0.056</text>
<circle cx="348.7" cy="732.9" r="2.10" fill="#fff" stroke="#000" stroke-width="1.0"/>
<circle cx="356.1" cy="735.2" r="2.10" fill="#fff" stroke="#000" stroke-width="1.0"/>
<circle cx="362.2" cy="732.9" r="2.10" fill="#fff" stroke="#000" stroke-width="1.0"/>
<circle cx="360" cy="718.4" r="2.10" fill="#fff" stroke="#000" stroke-width="1.0"/>
<circle cx="365" cy="723" r="2.10" fill="#fff" stroke="#000" stroke-width="1.0"/>
<circle cx="373.3" cy="723" r="2.10" fill="#fff" stroke="#000" stroke-width="1.0"/>
<circle cx="403.5" cy="714.5" r="2.10" fill="#fff" stroke="#000" stroke-width="1.0"/>
<circle cx="378.3" cy="721.4" r="2.5" fill="#000"/>
<circle cx="377.2" cy="725.6" r="2.5" fill="#000"/>
<circle cx="401.7" cy="704.2" r="2.5" fill="#000"/>
<circle cx="402.8" cy="701.5" r="2.5" fill="#000"/>
<circle cx="408.6" cy="688.6" r="2.5" fill="#000"/>
<circle cx="416.4" cy="685.9" r="2.5" fill="#000"/>
<circle cx="408.1" cy="719.1" r="2.5" fill="#000"/>
<circle cx="410.9" cy="716.4" r="2.5" fill="#000"/>
<circle cx="459.1" cy="644.7" r="2.5" fill="#000"/>
<circle cx="513.8" cy="671.9" r="2.5" fill="#000"/>
<circle cx="421.9" cy="700.6" r="2.5" fill="#000"/>
<circle cx="427.8" cy="698.4" r="2.5" fill="#000"/>
<circle cx="427.8" cy="720.3" r="2.5" fill="#000"/>
</svg>
</body></html>
